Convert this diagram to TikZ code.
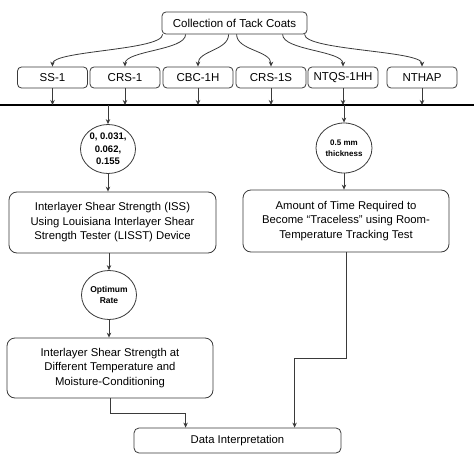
\documentclass[tikz,border=0pt]{standalone}
\usepackage{fontspec}
\setmainfont{Liberation Sans}
\usetikzlibrary{arrows.meta,shapes.geometric}

\begin{document}
\begin{tikzpicture}[x=1pt,y=-1pt,
  box/.style={draw=edge,line width=0.8pt,rounded corners=4pt,minimum width=70pt,minimum height=21pt,inner sep=0pt,font=\fontsize{11.5}{13}\selectfont},
  bigbox/.style={draw=edge,line width=0.8pt,rounded corners=8pt,minimum width=207pt,minimum height=61pt,inner sep=0pt,align=center,font=\fontsize{11.3}{14.5}\selectfont},
  rate/.style={draw=edge,line width=0.8pt,ellipse,minimum width=55pt,minimum height=49pt,inner sep=0pt,align=center,font=\bfseries\fontsize{9.5}{12.5}\selectfont},
  arr/.style={draw=edge,line width=0.8pt,-{Stealth[length=5pt,width=4.5pt]}}]
\definecolor{edge}{HTML}{3A3A3A}
\useasboundingbox (0,0) rectangle (474,460);
\node [box,minimum width=145pt,minimum height=22pt] (tack) at (234.5,23) {Collection of Tack Coats};
% the six tack coats
\foreach \nm/\lbl/\px in {ss/SS-1/52.5,crs/CRS-1/125,cbc/CBC-1H/198,crss/CRS-1S/271,ntqs/NTQS-1HH/343,nthap/NTHAP/422}
  {  \node [box] (\nm) at (\px,77.5) {\lbl};}
\foreach \nm/\off in {ss/1,crs/24,cbc/67,crss/75,ntqs/121,nthap/143}
  {  \draw [arr] ([xshift=\off pt]tack.south west) .. controls +(0,16) and +(0,-16) .. (\nm.north);}
\coordinate (busL) at (0,105);
\coordinate (busR) at (474,105);
\draw [line width=1.6pt] (busL) -- (busR);
\foreach \nm in {ss,crs,cbc,crss,ntqs,nthap}
  {  \draw [arr] (\nm.south) -- (\nm.south |- busL);}
% left branch
\node [rate] (dose) at (108,149) {0, 0.031,\\0.062,\\0.155};
\node [bigbox] (iss) at (112.5,222.5) {Interlayer Shear Strength (ISS)\\Using Louisiana Interlayer Shear\\Strength Tester (LISST) Device};
\node [rate,font=\bfseries\fontsize{8.5}{11.5}\selectfont] (opt) at (109,295) {Optimum\\Rate};
\node [bigbox,minimum width=206pt,minimum height=60pt] (temp) at (110,368) {Interlayer Shear Strength at\\Different Temperature and\\Moisture-Conditioning};
% right branch
\node [rate,minimum width=56pt,minimum height=50pt,font=\bfseries\fontsize{8}{11}\selectfont] (thick) at (344,148) {0.5 mm\\thickness};
\node [bigbox,minimum width=206pt,minimum height=62pt] (trace) at (346,221) {Amount of Time Required to\\Become ``Traceless'' using Room-\\Temperature Tracking Test};
\node [box,rounded corners=5pt,minimum width=207pt,minimum height=25pt,font=\fontsize{11.3}{13}\selectfont] (data) at (237.5,440.5) {Data Interpretation};
\draw [arr] (dose |- busL) -- (dose);
\draw [arr] (dose) -- (dose |- iss.north);
\draw [arr] (iss.south -| opt) -- (opt);
\draw [arr] (opt) -- (opt |- temp.north);
\draw [arr] (thick |- busL) -- (thick);
\draw [arr] (thick) -- (thick |- trace.north);
\draw [arr] (temp.south) -- ++(0,15) -| ([xshift=52pt]data.north west);
\draw [arr] (trace.south) -- ++(0,106) -| ([xshift=161pt]data.north west);
\end{tikzpicture}
\end{document}
